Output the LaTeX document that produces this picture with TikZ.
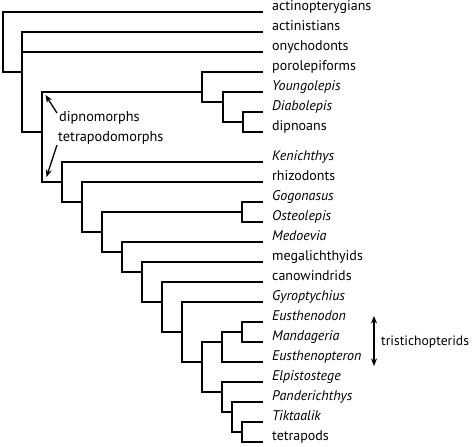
\documentclass[tikz,border=0pt]{standalone}
\usepackage{fontspec}
\setmainfont{PT Sans}
\usetikzlibrary{arrows.meta}
\begin{document}
\begin{tikzpicture}[x=1pt,y=-1pt,
  branch/.style={line width=2pt,line join=miter,line cap=butt},
  taxon/.style={anchor=base west,inner sep=0pt,font=\fontsize{14}{16}\selectfont},
  genus/.style={taxon,font=\fontsize{14}{16}\selectfont\itshape},
  annot/.style={inner sep=0pt,font=\fontsize{14.3}{16}\selectfont},
  pointer/.style={line width=1.3pt,-{Stealth[length=7.5pt,width=6pt]}},
  dpointer/.style={line width=1.3pt,{Stealth[length=7.5pt,width=6pt]}-{Stealth[length=7.5pt,width=6pt]}}]
\useasboundingbox (0,0) rectangle (472,447);
% tip end coordinates
\def\tx{263}
\foreach \nm/\yy in {a1/11.5,a2/31.5,a3/51.5,a4/71.5,a5/91.5,a6/111.5,a7/131.5,
  b1/161.5,b2/181.5,b3/201.5,b4/221.5,b5/241.5,b6/261.5,b7/281.5,b8/301.5,
  b9/321.5,b10/341.5,b11/361.5,b12/381.5,b13/401.5,b14/421.5,b15/441.5}
  {\coordinate (\nm) at (\tx,\yy);}
% labels
\node[taxon] (L1) at (272,10.5) {actinopterygians};
\node[taxon] (L2) at (272,30.5) {actinistians};
\node[taxon] (L3) at (272,50.5) {onychodonts};
\node[taxon] (L4) at (272,70.5) {porolepiforms};
\node[genus] (L5) at (272,90.5) {Youngolepis};
\node[genus] (L6) at (272,110.5) {Diabolepis};
\node[taxon] (L7) at (272,130.5) {dipnoans};
\node[genus] (M1) at (272,160.5) {Kenichthys};
\node[taxon] (M2) at (272,180.5) {rhizodonts};
\node[genus] (M3) at (272,200.5) {Gogonasus};
\node[genus] (M4) at (272,220.5) {Osteolepis};
\node[genus] (M5) at (272,240.5) {Medoevia};
\node[taxon] (M6) at (272,260.5) {megalichthyids};
\node[taxon] (M7) at (272,280.5) {canowindrids};
\node[genus] (M8) at (272,300.5) {Gyroptychius};
\node[genus] (M9) at (272,320.5) {Eusthenodon};
\node[genus] (M10) at (272,340.5) {Mandageria};
\node[genus] (M11) at (272,360.5) {Eusthenopteron};
\node[genus] (M12) at (272,380.5) {Elpistostege};
\node[genus] (M13) at (272,400.5) {Panderichthys};
\node[genus] (M14) at (272,420.5) {Tiktaalik};
\node[taxon] (M15) at (272,440.5) {tetrapods};
% internal nodes
\coordinate (root) at (3,41);
\coordinate (n2) at (22,71.5);
\coordinate (n3) at (42,131.5);
\coordinate (d1) at (202,91.5);
\coordinate (d2) at (223,101.5);
\coordinate (d3) at (243,121.5);
\coordinate (t1) at (62,181.5);
\coordinate (t2) at (82,201.5);
\coordinate (t3) at (102,231.5);
\coordinate (go) at (242,211.5);
\coordinate (t4) at (122,251.5);
\coordinate (t5) at (142,271.5);
\coordinate (t6) at (162,301.5);
\coordinate (t7) at (182,331.5);
\coordinate (t8) at (202,361.5);
\coordinate (tr) at (222,341.5);
\coordinate (em) at (242,331.5);
\coordinate (e1) at (222,391.5);
\coordinate (e2) at (232,411.5);
\coordinate (e3) at (242,431.5);
% branches
\draw[branch] (root) |- (a1) (root) |- (n2);
\draw[branch] (n2) |- (a2) (n2) |- (a3) (n2) |- (n3);
\draw[branch] (n3) |- (d1) (n3) |- (t1);
\draw[branch] (d1) |- (a4) (d1) |- (d2);
\draw[branch] (d2) |- (a5) (d2) |- (d3);
\draw[branch] (d3) |- (a6) (d3) |- (a7);
\draw[branch] (t1) |- (b1) (t1) |- (t2);
\draw[branch] (t2) |- (b2) (t2) |- (t3);
\draw[branch] (t3) |- (go) (t3) |- (t4);
\draw[branch] (go) |- (b3) (go) |- (b4);
\draw[branch] (t4) |- (b5) (t4) |- (t5);
\draw[branch] (t5) |- (b6) (t5) |- (t6);
\draw[branch] (t6) |- (b7) (t6) |- (t7);
\draw[branch] (t7) |- (b8) (t7) |- (t8);
\draw[branch] (t8) |- (tr) (t8) |- (e1);
\draw[branch] (tr) |- (em) (tr) |- (b11);
\draw[branch] (em) |- (b9) (em) |- (b10);
\draw[branch] (e1) |- (b12) (e1) |- (e2);
\draw[branch] (e2) |- (b13) (e2) |- (e3);
\draw[branch] (e3) |- (b14) (e3) |- (b15);
% annotations
\node[annot,anchor=base west] (dipno) at (59,121) {dipnomorphs};
\node[annot,anchor=base west] (tetra) at (58,141) {tetrapodomorphs};
\coordinate (dipS) at (57,113);
\coordinate (dipE) at (45.5,95);
\coordinate (tetS) at (57,145);
\coordinate (tetE) at (46.5,177);
\draw[pointer] (dipS) -- (dipE);
\draw[pointer] (tetS) -- (tetE);
\node[annot,anchor=west,font=\fontsize{13.6}{16}\selectfont] (tris) at (381,342) {tristichopterids};
\coordinate (trT) at (374,316);
\coordinate (trB) at (374,366);
\draw[dpointer] (trB) -- (trT);
\end{tikzpicture}
\end{document}
